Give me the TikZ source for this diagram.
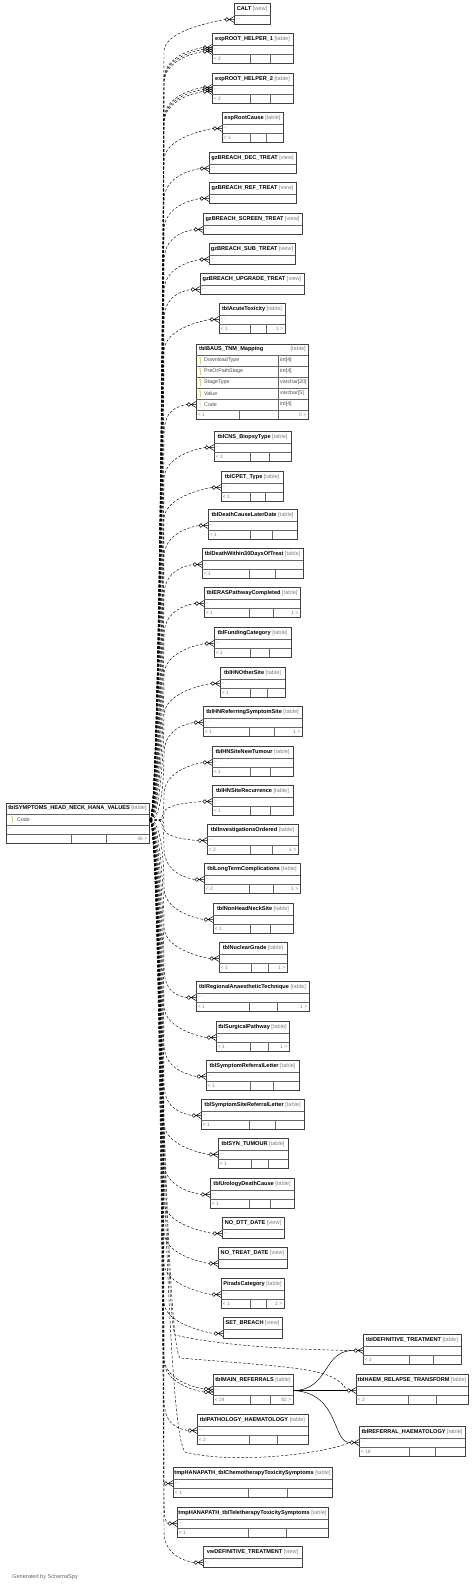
\documentclass[tikz,border=0pt]{standalone}
\usepackage{fontspec}
\setmainfont{Liberation Sans}
\usetikzlibrary{calc}

\definecolor{kindgray}{gray}{0.5}
\definecolor{keyyellow}{RGB}{235,215,40}

\begin{document}
\begin{tikzpicture}[x=1pt,y=-1pt]
  \tikzset{
    tbl/.style={draw=black!75, fill=white, line width=0.5pt, inner sep=0pt,
      anchor=north west},
    rule/.style={draw=black!60, line width=0.4pt},
    ttl/.style={inner sep=0pt, font=\fontsize{5.6}{6}\selectfont},
    cell/.style={inner sep=1.6pt, text=kindgray, font=\fontsize{5}{6}\selectfont},
    col/.style={inner sep=0pt, text=black!70, font=\fontsize{5.3}{6}\selectfont},
    fk/.style={dash pattern=on 2.6pt off 1.8pt, line width=0.45pt},
    rel/.style={line width=0.5pt},
  }
  \useasboundingbox (0,0) rectangle (474,1586);

  % a table box: id, left, top, right, title, kind, footer left, footer right
  \newcommand\ertable[8]{%
    \node[tbl, minimum width={(#4-#2)*1pt}, minimum height=30pt] (#1) at (#2,#3) {};
    \draw[rule] (#2,#3+12) -- (#4,#3+12) (#2,#3+21) -- (#4,#3+21)
      ({#2+0.47*(#4-#2)},#3+21) -- ++(0,9) ({#2+0.72*(#4-#2)},#3+21) -- ++(0,9);
    \node[ttl] (#1-t) at ({(#2+#4)/2},#3+6.5) {\textbf{#5} \textcolor{kindgray}{[#6]}};
    \node[cell, anchor=west] (#1-d) at (#2,#3+16.5) {...};
    \node[cell, anchor=west] (#1-l) at (#2,#3+25.5) {#7};
    \node[cell, anchor=east] (#1-r) at (#4,#3+25.5) {#8};
    \coordinate (#1-in) at (#2,#3+16.5);
  }
  % a view box: id, left, top, right, title
  \newcommand\erview[5]{%
    \node[tbl, minimum width={(#4-#2)*1pt}, minimum height=21pt] (#1) at (#2,#3) {};
    \draw[rule] (#2,#3+12) -- (#4,#3+12);
    \node[ttl] (#1-t) at ({(#2+#4)/2},#3+6.5) {\textbf{#5} \textcolor{kindgray}{[view]}};
    \node[cell, anchor=west] (#1-d) at (#2,#3+16.5) {...};
    \coordinate (#1-in) at (#2,#3+16.5);
  }
  \newcommand\keyicon[2]{%
    \fill[#2] (#1) ++(-0.5,-2) rectangle ++(1,5);
    \fill[#2] (#1) ++(0,-2.4) circle (1.1pt);
  }
  % "zero or many" end at a box
  \newcommand\crowfoot[1]{%
    \draw[rel] (#1) -- ++(-5,0) (#1) ++(0,-3) -- ++(-5,3) (#1) ++(0,3) -- ++(-5,-3);
    \draw[rel, fill=white] (#1) ++(-7.2,0) circle (1.9pt);
  }
  % dashed link from the Code column, optional y shift at the far end:
  % runs up/down the bundle, then bends over to the box
  \newcommand\fklink[2][0]{%
    \coordinate (cf) at ($(#2-in)+(0,#1)$);
    \draw[fk] let \p1=($(cf)+(-9.1,0)$), \p2=(main-out),
        \n1={max(-32,min(32,0.6*(\y1-\y2)))} in
      (main-out) .. controls ({\x2+10pt},\y2) and ({\x2+14pt},{\y1-2*\n1})
      .. ({\x2+14pt},{\y1-\n1})
      .. controls ({\x2+14pt},{\y1-0.4*\n1}) and ({max(\x2+14pt,\x1-18pt)},{\y1-0.1*\n1})
      .. (\p1);
    \crowfoot{cf}
  }

  % the table that everything points back to
  \node[tbl, minimum width=143pt, minimum height=40pt] (main) at (6,803) {};
  \draw[rule] (6,814) -- (149,814) (6,825) -- (149,825) (6,834) -- (149,834)
    (71,834) -- (71,843) (106,834) -- (106,843);
  \node[ttl] (main-t) at (77.5,808.5)
    {\textbf{tblSYMPTOMS\_HEAD\_NECK\_HANA\_VALUES} \textcolor{kindgray}{[table]}};
  \keyicon{12,819.5}{keyyellow}
  \node[col, anchor=west] (main-c) at (17,819.5) {Code};
  \node[cell, anchor=west] (main-d) at (6,829.5) {...};
  \node[cell, anchor=east] (main-r) at (149,838.5) {46 >};
  \coordinate (main-out) at (150,820);

  \erview{calt}{234}{3}{270}{CALT}
  \ertable{erh1}{212}{33}{293}{expROOT\_HELPER\_1}{table}{< 2}{}
  \ertable{erh2}{212}{73}{293}{expROOT\_HELPER\_2}{table}{< 2}{}
  \ertable{erc}{222}{112}{283}{expRootCause}{table}{< 1}{}
  \erview{gzdec}{209}{152}{296}{gzBREACH\_DEC\_TREAT}
  \erview{gzref}{209}{182}{296}{gzBREACH\_REF\_TREAT}
  \erview{gzscr}{203}{213}{302}{gzBREACH\_SCREEN\_TREAT}
  \erview{gzsub}{209}{243}{295}{gzBREACH\_SUB\_TREAT}
  \erview{gzupg}{200}{273}{304}{gzBREACH\_UPGRADE\_TREAT}
  \ertable{acute}{219}{303}{285}{tblAcuteToxicity}{table}{< 1}{1 >}

  % this one shows its columns
  \newcommand\bauscol[5]{%
    \keyicon{200,#2}{#5}
    \node[col, anchor=west] (baus-#1) at (204,#2) {#3};
    \node[col, anchor=west] (baus-#1t) at (280,#2) {#4};
  }
  \node[tbl, line width=1.2pt, minimum width=112pt, minimum height=75pt] (baus) at (196,344) {};
  \draw[rule] (196,355) -- (308,355) (196,366) -- (308,366) (196,377) -- (308,377)
    (196,388) -- (308,388) (196,399) -- (308,399) (196,410) -- (308,410)
    (278,355) -- (278,419) (239,410) -- (239,419);
  \node[ttl, anchor=west] (baus-t) at (199,349.5) {\textbf{tblBAUS\_TNM\_Mapping}};
  \node[ttl, anchor=east] (baus-k) at (306,349.5) {\textcolor{kindgray}{[table]}};
  \bauscol{a}{360.5}{DownloadType}{int[4]}{keyyellow}
  \bauscol{b}{371.5}{PreOrPathStage}{int[4]}{keyyellow}
  \bauscol{c}{382.5}{StageType}{varchar[20]}{keyyellow}
  \bauscol{d}{393.5}{Value}{varchar[5]}{keyyellow}
  \bauscol{e}{404.5}{Code}{int[4]}{keyyellow!35!white}
  \node[cell, anchor=west] (baus-l) at (196,414.5) {< 1};
  \node[cell, anchor=east] (baus-r) at (308,414.5) {0 >};
  \coordinate (baus-in) at (196,404.5);

  \ertable{cns}{214}{431}{291}{tblCNS\_BiopsyType}{table}{< 1}{}
  \ertable{cpet}{221}{471}{283}{tblCPET\_Type}{table}{< 1}{}
  \ertable{dcld}{208}{509}{297}{tblDeathCauseLaterDate}{table}{< 1}{}
  \ertable{dw30}{202}{548}{303}{tblDeathWithin30DaysOfTreat}{table}{< 1}{}
  \ertable{eras}{204}{587}{300}{tblERASPathwayCompleted}{table}{< 1}{1 >}
  \ertable{fund}{214}{627}{291}{tblFundingCategory}{table}{< 1}{}
  \ertable{hnos}{220}{667}{285}{tblHNOtherSite}{table}{< 1}{}
  \ertable{hnrs}{203}{706}{302}{tblHNReferringSymptomSite}{table}{< 1}{1 >}
  \ertable{hnnt}{212}{746}{293}{tblHNSiteNewTumour}{table}{< 1}{}
  \ertable{hnsr}{212}{785}{293}{tblHNSiteRecurrence}{table}{< 1}{}
  \ertable{invo}{207}{824}{298}{tblInvestigationsOrdered}{table}{< 2}{1 >}
  \ertable{ltc}{204}{863}{300}{tblLongTermComplications}{table}{< 2}{1 >}
  \ertable{nhns}{213}{903}{293}{tblNonHeadNeckSite}{table}{< 1}{}
  \ertable{ngrade}{219}{942}{287}{tblNuclearGrade}{table}{< 1}{1 >}
  \ertable{rat}{196}{981}{309}{tblRegionalAnaestheticTechnique}{table}{< 1}{1 >}
  \ertable{surg}{216}{1021}{289}{tblSurgicalPathway}{table}{< 1}{1 >}
  \ertable{srl}{206}{1060}{299}{tblSymptomReferralLetter}{table}{< 1}{}
  \ertable{ssrl}{201}{1099}{304}{tblSymptomSiteReferralLetter}{table}{< 1}{}
  \ertable{syn}{218}{1138}{288}{tblSYN\_TUMOUR}{table}{< 1}{}
  \ertable{udc}{210}{1178}{294}{tblUrologyDeathCause}{table}{< 1}{}
  \erview{nodtt}{222}{1217}{284}{NO\_DTT\_DATE}
  \erview{notreat}{218}{1247}{287}{NO\_TREAT\_DATE}
  \ertable{pirads}{221}{1278}{284}{PiradsCategory}{table}{< 1}{1 >}
  \erview{setb}{223}{1317}{282}{SET\_BREACH}
  \ertable{defn}{363}{1334}{461}{tblDEFINITIVE\_TREATMENT}{table}{< 2}{}
  \ertable{mref}{213}{1374}{293}{tblMAIN\_REFERRALS}{table}{< 24}{82 >}
  \ertable{haem}{356}{1374}{468}{tblHAEM\_RELAPSE\_TRANSFORM}{table}{< 2}{}
  \ertable{refh}{359}{1426}{465}{tblREFERRAL\_HAEMATOLOGY}{table}{< 18}{}
  \ertable{path}{197}{1414}{308}{tblPATHOLOGY\_HAEMATOLOGY}{table}{< 2}{}
  \ertable{chemo}{173}{1467}{332}{tmpHANAPATH\_tblChemotherapyToxicitySymptoms}{table}{< 1}{}
  \ertable{tele}{177}{1507}{328}{tmpHANAPATH\_tblTeletherapyToxicitySymptoms}{table}{< 1}{}
  \erview{vwdef}{203}{1546}{302}{vwDEFINITIVE\_TREATMENT}

  % implied links out of Code
  \fklink{calt}
  \fklink[-2]{erh1} \fklink{erh1} \fklink[2]{erh1}
  \fklink[-2]{erh2} \fklink{erh2} \fklink[2]{erh2}
  \fklink{erc}
  \fklink{gzdec} \fklink{gzref} \fklink{gzscr} \fklink{gzsub} \fklink{gzupg}
  \fklink{acute} \fklink{baus}
  \fklink{cns} \fklink{cpet} \fklink{dcld} \fklink{dw30} \fklink{eras}
  \fklink{fund} \fklink{hnos} \fklink{hnrs} \fklink{hnnt} \fklink{hnsr}
  \fklink{invo} \fklink{ltc} \fklink{nhns} \fklink{ngrade} \fklink{rat}
  \fklink{surg} \fklink{srl} \fklink{ssrl} \fklink{syn} \fklink{udc}
  \fklink{nodtt} \fklink{notreat} \fklink{pirads} \fklink{setb}
  \fklink[-1.5]{mref} \fklink[1.5]{mref}
  \fklink{path} \fklink{chemo} \fklink{tele} \fklink{vwdef}

  % the three that also hang off tblMAIN_REFERRALS take their own route
  \coordinate (defn-end) at ($(defn-in)+(-9.1,0)$);
  \coordinate (haem-end) at ($(haem-in)+(-9.1,0)$);
  \coordinate (refh-end) at ($(refh-in)+(-9.1,0)$);
  \draw[fk] (main-out) .. controls (160,820) and (164,1310) .. (175,1335)
    .. controls (230,1348) and (320,1350) .. (defn-end);
  \draw[fk] (main-out) .. controls (160,820) and (164,1340) .. (180,1358)
    .. controls (300,1368) and (335,1368) .. (haem-end);
  \draw[fk] (main-out) .. controls (160,820) and (162,1425) .. (185,1452)
    .. controls (230,1464) and (320,1455) .. (refh-end);
  \coordinate (mref-out) at (mref-in -| mref.east);
  \draw[rel] (mref-out) .. controls (330,1390) and (322,1350) .. (defn-end);
  \draw[rel] (mref-out) -- (haem-end);
  \draw[rel] (mref-out) .. controls (340,1393) and (332,1443) .. (refh-end);
  \crowfoot{defn-in}
  \crowfoot{haem-in}
  \crowfoot{refh-in}

  \node[anchor=west, inner sep=0pt, text=black!60, font=\fontsize{5.6}{6}\selectfont]
    (gen) at (12,1577) {Generated by SchemaSpy};
\end{tikzpicture}
\end{document}
